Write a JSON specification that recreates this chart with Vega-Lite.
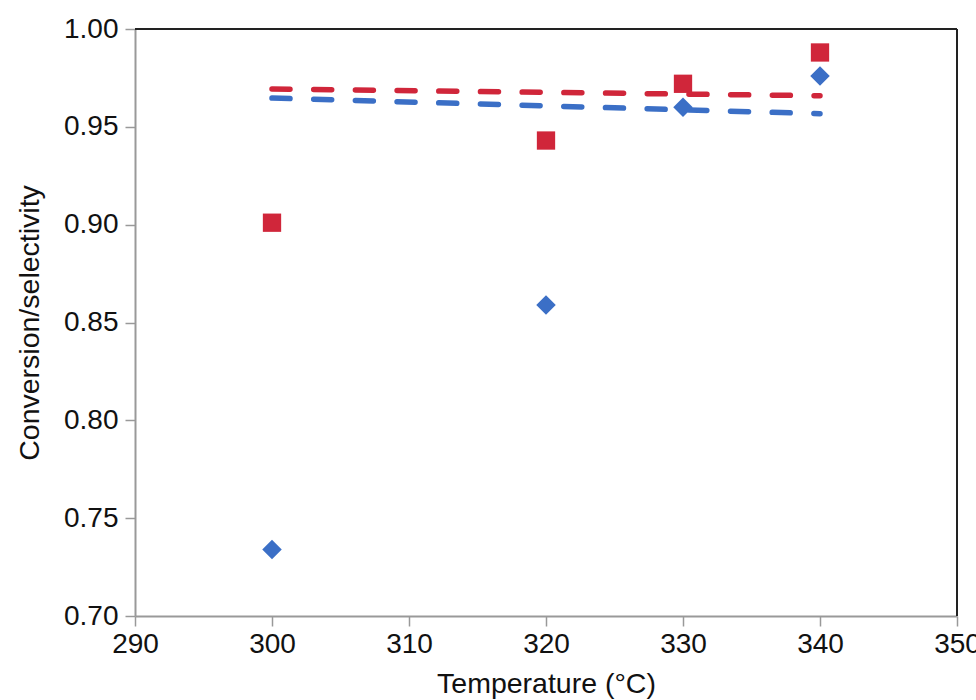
{
  "$schema": "https://vega.github.io/schema/vega-lite/v6.json",
  "autosize": {"type": "none"},
  "width": 822,
  "height": 587,
  "padding": {"left": 135, "top": 29, "right": 19, "bottom": 84},
  "background": "white",
  "config": {
    "font": "Liberation Sans",
    "view": {"stroke": null},
    "axis": {
      "grid": false,
      "domainColor": "#999999",
      "domainWidth": 2,
      "tickColor": "#999999",
      "tickWidth": 1.5,
      "tickSize": 10,
      "labelFontSize": 28,
      "labelColor": "#111111",
      "titleFontSize": 28.5,
      "titleFontWeight": "normal",
      "titleColor": "#111111"
    }
  },
  "datasets": {
    "points": [
      {"T": 300, "value": 0.901, "series": "Selectivity"},
      {"T": 320, "value": 0.943, "series": "Selectivity"},
      {"T": 330, "value": 0.972, "series": "Selectivity"},
      {"T": 340, "value": 0.988, "series": "Selectivity"},
      {"T": 300, "value": 0.734, "series": "Conversion"},
      {"T": 320, "value": 0.859, "series": "Conversion"},
      {"T": 330, "value": 0.960, "series": "Conversion"},
      {"T": 340, "value": 0.976, "series": "Conversion"}
    ],
    "fits": [
      {"T": 300, "value": 0.9693, "series": "Selectivity"},
      {"T": 340, "value": 0.9659, "series": "Selectivity"},
      {"T": 300, "value": 0.9647, "series": "Conversion"},
      {"T": 340, "value": 0.9567, "series": "Conversion"}
    ],
    "frame": [
      {"T": 350, "value": 1.0}
    ]
  },
  "layer": [
    {
      "data": {"name": "fits"},
      "mark": {"type": "line", "strokeWidth": 5.5, "strokeCap": "round", "strokeDash": [18, 23.7]},
      "encoding": {
        "x": {"field": "T", "type": "quantitative", "scale": {"domain": [290, 350], "nice": false, "zero": false},
          "axis": {"values": [290, 300, 310, 320, 330, 340, 350], "title": "Temperature (°C)", "labelPadding": 4, "titlePadding": 11, "labelFlush": false}},
        "y": {"field": "value", "type": "quantitative", "scale": {"domain": [0.7, 1.0], "nice": false, "zero": false},
          "axis": {"values": [0.7, 0.75, 0.8, 0.85, 0.9, 0.95, 1.0], "format": ".2f", "title": "Conversion/selectivity", "labelPadding": 7, "titlePadding": 19, "labelFlush": false}},
        "color": {"field": "series", "type": "nominal", "scale": {"domain": ["Selectivity", "Conversion"], "range": ["#d0263a", "#3b6fc6"]}, "legend": null},
        "detail": {"field": "series"}
      }
    },
    {
      "data": {"name": "points"},
      "mark": {"type": "point", "filled": true, "opacity": 1},
      "encoding": {
        "x": {"field": "T", "type": "quantitative"},
        "y": {"field": "value", "type": "quantitative"},
        "color": {"field": "series", "type": "nominal", "scale": {"domain": ["Selectivity", "Conversion"], "range": ["#d0263a", "#3b6fc6"]}, "legend": null},
        "shape": {"field": "series", "type": "nominal", "scale": {"domain": ["Selectivity", "Conversion"], "range": ["square", "diamond"]}, "legend": null},
        "size": {"field": "series", "type": "nominal", "scale": {"domain": ["Selectivity", "Conversion"], "range": [335, 380]}, "legend": null}
      }
    },
    {
      "data": {"name": "frame"},
      "mark": {"type": "rule", "color": "#222222", "strokeWidth": 2},
      "encoding": {"x": {"field": "T", "type": "quantitative"}}
    },
    {
      "data": {"name": "frame"},
      "mark": {"type": "rule", "color": "#222222", "strokeWidth": 2},
      "encoding": {"y": {"field": "value", "type": "quantitative"}}
    }
  ]
}
